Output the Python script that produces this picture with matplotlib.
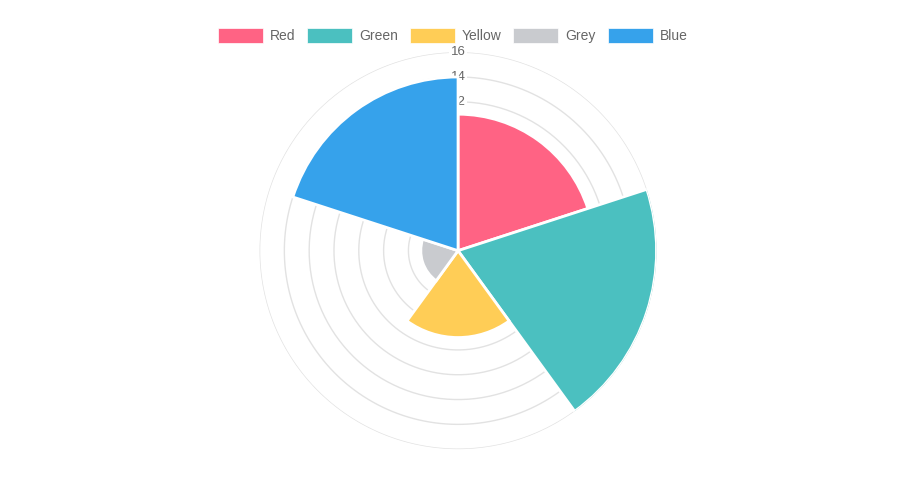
import numpy as np
import matplotlib.pyplot as plt
from matplotlib.patches import Patch

plt.rcParams["font.family"] = ["Liberation Sans", "DejaVu Sans"]

labels = ["Red", "Green", "Yellow", "Grey", "Blue"]
values = [11, 16, 7, 3, 14]
colors = ["#ff6384", "#4bc0c0", "#ffcd56", "#c9cbcf", "#36a2eb"]
ticks = [2, 4, 6, 8, 10, 12, 14, 16]

fig = plt.figure(figsize=(9.17, 4.83), dpi=100)
# polar area centred at about (458, 251) px, radius ~198 px
ax = fig.add_axes([0.2830, 0.0700, 0.4330, 0.8220], projection="polar")
ax.set_theta_zero_location("N")
ax.set_theta_direction(-1)
ax.set_rlim(0, 16)
ax.grid(False)
ax.set_xticks([])
ax.set_yticks([])
ax.spines["polar"].set_visible(False)
ax.patch.set_alpha(0)

# grid circles
th = np.linspace(0, 2 * np.pi, 400)
for t in ticks:
    ax.plot(th, np.full_like(th, t), color="#e2e2e2", lw=1, zorder=1)

# tick labels with white backdrop (drawn under the segments)
for t in ticks:
    ax.text(0, t, str(t), ha="center", va="center", fontsize=9.5, color="#666666",
            zorder=2, bbox=dict(boxstyle="square,pad=0.1", fc="white", ec="none"))

n = len(values)
width = 2 * np.pi / n
angles = np.arange(n) * width
ax.bar(angles, values, width=width, align="edge", color=colors,
       edgecolor="white", linewidth=2, zorder=3)

handles = [Patch(facecolor=c, edgecolor="white", lw=0.5) for c in colors]
leg = fig.legend(handles, labels, loc="center", bbox_to_anchor=(0.4935, 0.926),
                 ncol=n, frameon=False, fontsize=10, handlelength=3.24,
                 handleheight=1.25, handletextpad=0.5, columnspacing=0.86)
for txt in leg.get_texts():
    txt.set_color("#666666")

fig.savefig("out.png", dpi=100)
